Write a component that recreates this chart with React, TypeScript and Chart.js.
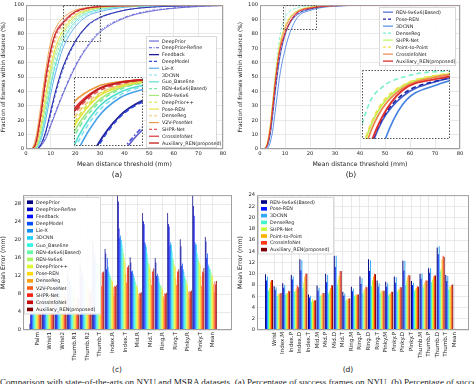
import React, { useEffect, useRef } from 'react';
import { Chart, registerables } from 'chart.js';
Chart.register(...registerables);

const FONT = "'DejaVu Sans', sans-serif";
Chart.defaults.font.family = FONT;
const GRID = '#e3e3e3';
const SPINE = '#a0a0a0';
const TXT = '#222222';

// ---------- (a) NYU success-frame curves ----------
const THRESH_A = [0, 2, 4, 6, 8, 10, 12, 15, 20, 25, 30, 40, 50, 60, 70, 80];
const A_DEEPPRIOR = [0, 0, 0, 2, 7, 16, 25, 38, 57, 71, 81, 91, 95.5, 97.8, 99, 99.7];
const A_DEEPPRIOR_REFINE = [0, 0, 0, 2, 8, 17, 26, 39, 58, 72, 82, 91.5, 96, 98, 99.2, 99.8];
const A_FEEDBACK = [0, 0, 0, 3, 12, 26, 40, 57, 75, 86, 91.5, 96.5, 98.5, 99.3, 99.7, 100];
const A_DEEPMODEL = [0, 0, 0, 3, 11, 24, 38, 55, 74, 85.5, 91, 96.5, 98.5, 99.3, 99.7, 100];
const A_LIEX = [0, 0, 0.5, 6, 20, 38, 53, 70, 85, 92.5, 95.5, 98.5, 99.5, 99.8, 99.9, 100];
const A_3DCNN = [0, 0, 0.5, 7, 23, 42, 57, 73, 87, 93.5, 96.5, 98.8, 99.6, 99.8, 99.9, 100];
const A_GUO = [0, 0, 1, 8, 25, 44, 59, 75, 88.5, 94.5, 97, 99, 99.6, 99.8, 99.9, 100];
const A_REN4 = [0, 0, 1, 10, 29, 48, 63, 78, 90, 95.5, 97.8, 99.2, 99.7, 99.9, 100, 100];
const A_REN9 = [0, 0, 1, 12, 32, 52, 67, 80, 91, 96, 98, 99.3, 99.7, 99.9, 100, 100];
const A_DEEPPRIORPP = [0, 0, 2, 15, 36, 56, 70, 83, 93, 96.8, 98.5, 99.4, 99.8, 99.9, 100, 100];
const A_POSEREN = [0, 0, 2, 16, 38, 57, 71, 82, 92.5, 96.5, 98.3, 99.4, 99.7, 99.9, 100, 100];
const A_DENSEREG = [0, 0, 3, 20, 43, 62, 75, 85, 93.5, 97, 98.6, 99.5, 99.8, 99.9, 100, 100];
const A_V2V = [0, 0, 8, 30, 55, 74, 84, 91, 96.5, 98.3, 99, 99.6, 99.8, 99.9, 100, 100];
const A_SHPR = [0, 0, 3, 21, 45, 65, 78, 86.5, 94.5, 97.5, 98.8, 99.5, 99.8, 99.9, 100, 100];
const A_CROSSINFO = [0, 0, 5, 25, 50, 69, 81, 88.5, 95.5, 98, 99, 99.6, 99.8, 99.9, 100, 100];
const A_AUX = [0, 0, 4, 23, 48, 68, 80, 87.5, 95.3, 98, 99, 99.6, 99.8, 100, 100, 100];

// ---------- (b) MSRA success-frame curves ----------
const THRESH_B = [0, 2, 3, 4, 5, 6, 7, 8, 10, 12, 15, 20, 30, 40, 60, 80];
const B_REN9 = [0, 0.3, 2, 9, 22, 38, 52, 64, 79, 87.5, 93.5, 97.2, 99.5, 99.8, 100, 100];
const B_POSEREN = [0, 0.3, 2.5, 10, 24, 40, 54, 66, 80, 88, 94, 97.3, 99.5, 99.8, 100, 100];
const B_3DCNN = [0, 0, 0.5, 4, 12, 25, 39, 52, 69, 81, 91.5, 96.3, 99.3, 99.8, 100, 100];
const B_DENSEREG = [0, 0.3, 3, 13, 30, 50, 66, 79, 91.5, 95.8, 98.2, 99.6, 99.9, 100, 100, 100];
const B_SHPR = [0, 0.5, 5, 15, 31, 48, 62, 73, 85, 91.5, 96, 98.6, 99.7, 100, 100, 100];
const B_P2P = [0, 0.5, 5, 16, 32, 49, 63, 74, 85.5, 92, 96.2, 98.7, 99.7, 100, 100, 100];
const B_CROSSINFO = [0, 0.5, 4, 14, 29, 46, 60, 71, 83.5, 90.5, 95.5, 98.3, 99.7, 100, 100, 100];
const B_AUX = [0, 0.4, 3.5, 12, 27, 44, 58, 69, 80.5, 88.5, 95, 97.8, 99.6, 99.9, 100, 100];

// ---------- (c) NYU per-joint mean error ----------
const CATS_C = ['Palm', 'Wrist1', 'Wrist2', 'Thumb.R1', 'Thumb.R2', 'Thumb.T', 'Index.R', 'Index.T', 'Mid.R', 'Mid.T', 'Ring.R', 'Ring.T', 'Pinky.R', 'Pinky.T', 'Mean'];
const C_DEEPPRIOR = [1.4, 14, 15, 13, 15, 20, 18.0, 30.0, 16.2, 26.0, 16.0, 26.0, 20.2, 30.0, 20.7];
const C_DEEPPRIOR_REFINE = [12, 13, 14, 12, 14, 19, 17.0, 28.6, 15.0, 24.2, 15.0, 23.6, 18.6, 27.6, 19.7];
const C_FEEDBACK = [10, 11, 12, 11, 12, 16, 13.5, 22.6, 13.0, 23.5, 12.0, 23.0, 14.3, 25.4, 16.0];
const C_DEEPMODEL = [11, 12, 12, 11, 13, 17, 16.0, 20.5, 13.2, 19.5, 12.5, 18.8, 14.8, 19.5, 17.0];
const C_LIEX = [9, 10, 10, 10, 12, 16, 14.0, 21.0, 12.5, 19.0, 12.0, 19.5, 13.5, 19.0, 14.5];
const C_3DCNN = [9, 10, 10, 10, 12, 16, 13.0, 20.0, 12.0, 18.5, 11.5, 19.0, 13.0, 19.0, 14.1];
const C_GUO = [8, 10, 10, 10, 11, 15, 12.5, 19.0, 11.5, 17.0, 10.5, 17.5, 12.0, 17.0, 13.7];
const C_REN4 = [8, 9, 10, 9, 11, 15, 12.0, 18.0, 10.8, 16.0, 10.0, 16.0, 11.5, 16.0, 13.4];
const C_REN9 = [7.5, 9, 9, 9, 11, 14.5, 11.5, 17.0, 10.2, 15.0, 9.8, 15.5, 11.0, 15.5, 12.7];
const C_DEEPPRIORPP = [7, 8, 8, 8.5, 10.5, 14.6, 11.0, 16.0, 9.8, 14.5, 9.5, 14.5, 10.5, 15.0, 12.2];
const C_POSEREN = [7, 8, 8, 8.5, 10, 14.2, 10.8, 15.0, 9.5, 13.5, 9.0, 14.0, 10.0, 14.5, 11.8];
const C_DENSEREG = [6, 7, 7, 7, 9, 12.0, 9.5, 12.5, 8.0, 11.5, 7.5, 11.5, 8.5, 12.0, 10.2];
const C_V2V = [5, 6, 6, 6, 7.5, 9.8, 7.5, 10.5, 7.0, 10.0, 6.8, 10.0, 7.0, 9.8, 8.4];
const C_SHPR = [6.5, 7, 7.5, 7, 9, 12.8, 9.8, 14.0, 8.3, 13.0, 8.2, 13.0, 8.7, 13.0, 10.8];
const C_CROSSINFO = [6, 7, 7, 7, 8.5, 12.8, 9.6, 13.9, 8.2, 13.0, 8.0, 13.0, 8.5, 12.8, 10.1];
const C_AUX = [6.2, 7, 7, 7, 9, 13.0, 10.0, 14.4, 8.4, 13.7, 8.3, 13.5, 8.8, 13.8, 10.9];

// ---------- (d) MSRA per-joint mean error ----------
const CATS_D = ['Wrist', 'Index.M', 'Index.P', 'Index.D', 'Index.T', 'Mid.M', 'Mid.P', 'Mid.D', 'Mid.T', 'Ring.M', 'Ring.P', 'Ring.D', 'Ring.T', 'Pinky.M', 'Pinky.P', 'Pinky.D', 'Pinky.T', 'Thumb.M', 'Thumb.P', 'Thumb.D', 'Thumb.T', 'Mean'];
const D_REN9 = [9.9, 7.8, 8.3, 9.8, 12.6, 6.3, 7.9, 10.0, 13.2, 6.8, 7.7, 9.5, 12.6, 8.8, 8.6, 9.5, 12.3, 8.7, 10.0, 11.0, 14.7, 9.8];
const D_POSEREN = [8.8, 7.1, 7.5, 9.0, 10.6, 5.8, 7.0, 8.5, 11.2, 6.1, 6.9, 8.2, 10.5, 7.7, 7.7, 8.4, 10.6, 8.0, 9.1, 10.2, 13.5, 8.7];
const D_3DCNN = [9.5, 7.6, 8.0, 9.5, 12.4, 6.1, 7.5, 9.8, 13.2, 6.5, 7.4, 9.2, 12.4, 8.3, 8.3, 9.4, 12.3, 8.4, 10.0, 11.0, 14.9, 9.6];
const D_DENSEREG = [7.0, 6.0, 6.3, 6.8, 7.5, 5.0, 6.0, 6.5, 8.0, 5.2, 6.0, 6.5, 7.8, 6.5, 6.2, 6.8, 8.0, 7.0, 7.5, 8.5, 10.5, 7.2];
const D_SHPR = [7.5, 6.5, 6.5, 7.0, 8.5, 5.5, 6.2, 7.0, 9.0, 5.5, 6.3, 7.0, 8.8, 7.0, 6.5, 7.2, 8.8, 7.3, 8.0, 9.0, 11.0, 7.8];
const D_P2P = [8.6, 6.3, 6.6, 7.3, 9.5, 5.1, 6.3, 7.5, 9.6, 5.4, 6.2, 7.3, 9.5, 6.8, 6.5, 7.2, 9.5, 7.5, 8.5, 9.5, 12.6, 7.7];
const D_CROSSINFO = [8.9, 6.5, 7.0, 7.9, 10.0, 5.3, 6.6, 8.0, 10.5, 5.6, 6.3, 7.7, 10.0, 7.0, 6.8, 7.6, 9.8, 7.8, 8.8, 9.7, 13.2, 8.0];
const D_AUX = [8.9, 6.6, 6.9, 7.6, 10.0, 5.3, 6.6, 7.9, 10.5, 5.6, 6.3, 7.6, 9.9, 7.0, 6.8, 7.6, 9.7, 7.7, 8.8, 9.7, 13.0, 8.1];

const DASH = [3, 2];
const DASHDOT = [3, 1.5, 1, 1.5];

const SERIES_A = [
  { name: 'DeepPrior', values: A_DEEPPRIOR, color: '#6060d0', dash: [], width: 1 },
  { name: 'DeepPrior-Refine', values: A_DEEPPRIOR_REFINE, color: '#5050d8', dash: DASHDOT, width: 1 },
  { name: 'Feedback', values: A_FEEDBACK, color: '#20209a', dash: [], width: 1.2 },
  { name: 'DeepModel', values: A_DEEPMODEL, color: '#3048d8', dash: DASH, width: 1 },
  { name: 'Lie-X', values: A_LIEX, color: '#48a2ea', dash: [], width: 1 },
  { name: '3DCNN', values: A_3DCNN, color: '#80e0f2', dash: DASH, width: 1 },
  { name: 'Guo_Baseline', values: A_GUO, color: '#50dcca', dash: [], width: 1 },
  { name: 'REN-4x6x6(Based)', values: A_REN4, color: '#78e8a6', dash: DASH, width: 1 },
  { name: 'REN-9x6x6', values: A_REN9, color: '#a4e878', dash: [], width: 1 },
  { name: 'DeepPrior++', values: A_DEEPPRIORPP, color: '#cce84c', dash: DASH, width: 1 },
  { name: 'Pose-REN', values: A_POSEREN, color: '#e8e23a', dash: [], width: 1 },
  { name: 'DenseReg', values: A_DENSEREG, color: '#f0c868', dash: DASH, width: 1 },
  { name: 'V2V-PoseNet', values: A_V2V, color: '#e8963a', dash: [], width: 1 },
  { name: 'SHPR-Net', values: A_SHPR, color: '#e05a5a', dash: DASH, width: 1 },
  { name: 'CrossInfoNet', values: A_CROSSINFO, color: '#e03838', dash: [], width: 1.1 },
  { name: 'Auxiliary_REN(proposed)', values: A_AUX, color: '#c42020', dash: [], width: 1.2 },
];

const SERIES_B = [
  { name: 'REN-9x6x6(Based)', values: B_REN9, color: '#3a58cc', dash: [], width: 1 },
  { name: 'Pose-REN', values: B_POSEREN, color: '#2424a4', dash: DASH, width: 1 },
  { name: '3DCNN', values: B_3DCNN, color: '#4480e2', dash: [], width: 1 },
  { name: 'DenseReg', values: B_DENSEREG, color: '#78f0ca', dash: DASH, width: 1 },
  { name: 'SHPR-Net', values: B_SHPR, color: '#bcf04c', dash: [], width: 1 },
  { name: 'Point-to-Point', values: B_P2P, color: '#f0e24c', dash: DASH, width: 1 },
  { name: 'CrossInfoNet', values: B_CROSSINFO, color: '#f0864a', dash: [], width: 1.1 },
  { name: 'Auxiliary_REN(proposed)', values: B_AUX, color: '#e03030', dash: [], width: 1.2 },
];

const SERIES_C = [
  { name: 'DeepPrior', values: C_DEEPPRIOR, color: '#000080' },
  { name: 'DeepPrior-Refine', values: C_DEEPPRIOR_REFINE, color: '#0000c4' },
  { name: 'Feedback', values: C_FEEDBACK, color: '#0010ff' },
  { name: 'DeepModel', values: C_DEEPMODEL, color: '#0050ff' },
  { name: 'Lie-X', values: C_LIEX, color: '#1090f0' },
  { name: '3DCNN', values: C_3DCNN, color: '#20d0f8' },
  { name: 'Guo_Baseline', values: C_GUO, color: '#30f8e0' },
  { name: 'REN-4x6x6(Based)', values: C_REN4, color: '#66f8a8' },
  { name: 'REN-9x6x6', values: C_REN9, color: '#a8f864' },
  { name: 'DeepPrior++', values: C_DEEPPRIORPP, color: '#e0f830' },
  { name: 'Pose-REN', values: C_POSEREN, color: '#ffd810' },
  { name: 'DenseReg', values: C_DENSEREG, color: '#ffa010' },
  { name: 'V2V-PoseNet', values: C_V2V, color: '#ff6018' },
  { name: 'SHPR-Net', values: C_SHPR, color: '#f82010' },
  { name: 'CrossInfoNet', values: C_CROSSINFO, color: '#c80808' },
  { name: 'Auxiliary_REN(proposed)', values: C_AUX, color: '#800000' },
];

const SERIES_D = [
  { name: 'REN-9x6x6(Based)', values: D_REN9, color: '#000080' },
  { name: 'Pose-REN', values: D_POSEREN, color: '#0018ff' },
  { name: '3DCNN', values: D_3DCNN, color: '#30a8f8' },
  { name: 'DenseReg', values: D_DENSEREG, color: '#40f8c8' },
  { name: 'SHPR-Net', values: D_SHPR, color: '#c8f840' },
  { name: 'Point-to-Point', values: D_P2P, color: '#ffb000' },
  { name: 'CrossInfoNet', values: D_CROSSINFO, color: '#ff3810' },
  { name: 'Auxiliary_REN(proposed)', values: D_AUX, color: '#800000' },
];

function framePlugin(zoomBox?: any) {
  return {
    id: 'frame',
    afterDatasetsDraw(chart: any) {
      const { ctx, chartArea: a } = chart;
      ctx.save();
      ctx.strokeStyle = SPINE;
      ctx.lineWidth = 1;
      ctx.strokeRect(a.left + 0.5, a.top + 0.5, a.right - a.left - 1, a.bottom - a.top - 1);
      if (zoomBox) {
        const xs = chart.scales.x, ys = chart.scales.y;
        const l = xs.getPixelForValue(zoomBox.x0), r = xs.getPixelForValue(zoomBox.x1);
        const t = ys.getPixelForValue(zoomBox.y1), b = ys.getPixelForValue(zoomBox.y0);
        ctx.strokeStyle = '#555';
        ctx.setLineDash([1.5, 1.5]);
        ctx.strokeRect(Math.round(l) + 0.5, Math.round(t) + 0.5, Math.round(r - l), Math.round(b - t));
      }
      ctx.restore();
    },
  };
}

function legendPlugin(items: any[], box: any) {
  return {
    id: 'boxLegend',
    afterDatasetsDraw(chart: any) {
      const { ctx, chartArea: a } = chart;
      const x = a.left + box.dx, y = a.top + box.dy;
      const h = box.pad * 2 + items.length * box.lh;
      ctx.save();
      ctx.fillStyle = 'rgba(255,255,255,0.95)';
      ctx.strokeStyle = '#cfcfcf';
      ctx.lineWidth = 0.8;
      ctx.fillRect(x, y, box.w, h);
      ctx.strokeRect(x + 0.5, y + 0.5, box.w - 1, h - 1);
      ctx.font = `${box.font}px ${FONT}`;
      ctx.textBaseline = 'middle';
      items.forEach((it, i) => {
        const cy = y + box.pad + (i + 0.5) * box.lh;
        const sx = x + box.sx;
        if (box.kind === 'line') {
          ctx.strokeStyle = it.color;
          ctx.lineWidth = (it.width || 1) * 1.1;
          ctx.setLineDash(it.dash || []);
          ctx.beginPath();
          ctx.moveTo(sx, cy);
          ctx.lineTo(sx + box.sw, cy);
          ctx.stroke();
          ctx.setLineDash([]);
        } else {
          ctx.fillStyle = it.color;
          ctx.fillRect(sx, cy - box.sh / 2, box.sw, box.sh);
        }
        ctx.fillStyle = TXT;
        ctx.fillText(it.name, sx + box.sw + box.gap, cy + 0.3);
      });
      ctx.restore();
    },
  };
}

function lineSets(thr: number[], series: any[], k: number) {
  return series.map((s, i) => ({
    label: s.name,
    data: thr.map((t, j) => ({ x: t, y: s.values[j] })),
    borderColor: s.color,
    borderWidth: s.width * k,
    borderDash: s.dash.map((d: number) => d * Math.max(k, 1)),
    pointRadius: 0,
    cubicInterpolationMode: 'monotone',
    fill: false,
    order: series.length - i,
  }));
}

function curveChart(canvas: HTMLCanvasElement, inset: HTMLCanvasElement, cfg: any) {
  const main = new Chart(canvas, {
    type: 'line',
    data: { datasets: lineSets(cfg.thr, cfg.series, 0.85) as any },
    options: {
      animation: false,
      responsive: false,
      devicePixelRatio: 1,
      layout: { padding: { top: 2, right: cfg.padRight, left: 0, bottom: 0 } },
      plugins: { legend: { display: false }, tooltip: { enabled: false } },
      scales: {
        x: {
          type: 'linear', min: 0, max: 80,
          ticks: { stepSize: 10, font: { size: 5.2 }, color: TXT, padding: 2 },
          grid: { color: GRID, drawTicks: false, lineWidth: 0.8 },
          border: { display: false },
          title: { display: true, text: 'Mean distance threshold (mm)', font: { size: 6.2 }, color: TXT, padding: { top: 1, bottom: 0 } },
          afterFit: (s: any) => { s.height = cfg.xH; },
        },
        y: {
          type: 'linear', min: 0, max: 100,
          ticks: { stepSize: 10, font: { size: 5.2 }, color: TXT, padding: 2 },
          grid: { color: GRID, drawTicks: false, lineWidth: 0.8 },
          border: { display: false },
          title: { display: true, text: 'Fraction of frames within distance (%)', font: { size: 5.8 }, color: TXT, padding: { top: 0, bottom: 1 } },
          afterFit: (s: any) => { s.width = cfg.yW; },
        },
      },
    } as any,
    plugins: [framePlugin(cfg.zoomBox), legendPlugin(cfg.series, cfg.legend)],
  });
  const xs: any = main.scales.x, ys: any = main.scales.y;
  const l = Math.round(xs.getPixelForValue(cfg.insetAt.x0));
  const r = Math.round(xs.getPixelForValue(cfg.insetAt.x1));
  const t = Math.round(ys.getPixelForValue(cfg.insetAt.y1));
  const b = Math.round(ys.getPixelForValue(cfg.insetAt.y0));
  inset.width = r - l;
  inset.height = b - t;
  inset.style.left = cfg.left + l + 'px';
  inset.style.top = cfg.top + t + 'px';
  inset.style.width = r - l + 'px';
  inset.style.height = b - t + 'px';
  const ins = new Chart(inset, {
    type: 'line',
    data: { datasets: lineSets(cfg.thr, cfg.series, 1.6) as any },
    options: {
      animation: false,
      responsive: false,
      devicePixelRatio: 1,
      layout: { padding: 0 },
      plugins: { legend: { display: false }, tooltip: { enabled: false } },
      scales: {
        x: { type: 'linear', min: cfg.zoomBox.x0, max: cfg.zoomBox.x1, display: false },
        y: { type: 'linear', min: cfg.zoomBox.y0, max: cfg.zoomBox.y1, display: false },
      },
    } as any,
    plugins: [
      {
        id: 'insetBg',
        beforeDraw(c: any) {
          c.ctx.save();
          c.ctx.fillStyle = '#fff';
          c.ctx.fillRect(0, 0, c.width, c.height);
          c.ctx.restore();
        },
        afterDraw(c: any) {
          const ctx = c.ctx;
          ctx.save();
          ctx.strokeStyle = '#555';
          ctx.setLineDash([1.5, 1.5]);
          ctx.lineWidth = 1;
          ctx.strokeRect(0.5, 0.5, c.width - 1, c.height - 1);
          ctx.restore();
        },
      },
    ],
  });
  return [main, ins];
}

function barChart(canvas: HTMLCanvasElement, cfg: any) {
  const cats: string[] = cfg.cats;
  return new Chart(canvas, {
    type: 'bar',
    data: {
      datasets: cfg.series.map((s: any) => ({
        label: s.name,
        data: s.values.map((v: number, i: number) => ({ x: i, y: v })),
        backgroundColor: s.color,
        borderWidth: 0,
        barPercentage: 1,
        categoryPercentage: cfg.catPct,
      })),
    },
    options: {
      animation: false,
      responsive: false,
      devicePixelRatio: 1,
      layout: { padding: { top: 5, right: 5, left: 0, bottom: 0 } },
      plugins: { legend: { display: false }, tooltip: { enabled: false } },
      scales: {
        x: {
          type: 'linear', min: cfg.xMin, max: cfg.xMax, offset: false,
          afterBuildTicks: (s: any) => { s.ticks = cats.map((_, i) => ({ value: i + cfg.lblShift })); },
          ticks: {
            font: { size: 5.6 }, color: TXT, padding: 2, autoSkip: false, minRotation: 90, maxRotation: 90,
            callback: (v: number) => cats[Math.round(v - cfg.lblShift)] ?? '',
          },
          grid: { color: GRID, drawTicks: false, lineWidth: 0.8, offset: false },
          border: { display: false },
          afterFit: (s: any) => { s.height = cfg.xH; },
        },
        y: {
          type: 'linear', min: 0, max: cfg.yMax,
          ticks: { stepSize: 2, font: { size: 5.2 }, color: TXT, padding: 2 },
          grid: { color: GRID, drawTicks: false, lineWidth: 0.8 },
          border: { display: false },
          title: { display: true, text: 'Mean Error (mm)', font: { size: 6.2 }, color: TXT, padding: { top: 0, bottom: 1 } },
          afterFit: (s: any) => { s.width = cfg.yW; },
        },
      },
    } as any,
    plugins: [framePlugin(), legendPlugin(cfg.series, cfg.legend)],
  });
}

const lblStyle = (x: number, y: number): React.CSSProperties => ({
  position: 'absolute', left: x - 20, top: y, width: 40, textAlign: 'center',
  fontFamily: FONT, fontSize: 7.5, color: TXT, lineHeight: '9px',
});

export default function App() {
  const aRef = useRef<HTMLCanvasElement>(null);
  const aiRef = useRef<HTMLCanvasElement>(null);
  const bRef = useRef<HTMLCanvasElement>(null);
  const biRef = useRef<HTMLCanvasElement>(null);
  const cRef = useRef<HTMLCanvasElement>(null);
  const dRef = useRef<HTMLCanvasElement>(null);

  useEffect(() => {
    const charts: Chart[] = [];
    charts.push(...(curveChart(aRef.current!, aiRef.current!, {
      thr: THRESH_A, series: SERIES_A, left: 0, top: 0, yW: 26, xH: 19, padRight: 14,
      zoomBox: { x0: 15, x1: 30, y0: 75, y1: 100 },
      insetAt: { x0: 19.5, x1: 47.5, y0: 2, y1: 50 },
      legend: { dx: 120, dy: 31, w: 71, lh: 6.8, pad: 1.5, kind: 'line', sx: 3, sw: 10, gap: 3, font: 4.8 },
    }) as any));
    charts.push(...(curveChart(bRef.current!, biRef.current!, {
      thr: THRESH_B, series: SERIES_B, left: 237, top: 0, yW: 23, xH: 19, padRight: 14,
      zoomBox: { x0: 9, x1: 22, y0: 83, y1: 100 },
      insetAt: { x0: 41, x1: 76, y0: 7, y1: 55 },
      legend: { dx: 119, dy: 2, w: 77, lh: 7, pad: 1.5, kind: 'line', sx: 4, sw: 10, gap: 3, font: 4.8 },
    }) as any));
    charts.push(barChart(cRef.current!, {
      cats: CATS_C, series: SERIES_C, yMax: 30, yW: 23, xH: 32, catPct: 0.95,
      xMin: -1.0, xMax: 15.69, lblShift: 0.15,
      legend: { dx: 1, dy: 2, w: 77, lh: 7.15, pad: 1.5, kind: 'bar', sx: 3, sw: 6, sh: 3.6, gap: 3, font: 4.8 },
    }));
    charts.push(barChart(dRef.current!, {
      cats: CATS_D, series: SERIES_D, yMax: 24, yW: 20, xH: 32, catPct: 0.92,
      xMin: -1.4, xMax: 23.3, lblShift: 0.6,
      legend: { dx: 1, dy: 2, w: 76, lh: 6.8, pad: 1.5, kind: 'bar', sx: 3, sw: 6, sh: 3.6, gap: 3, font: 4.8 },
    }));
    return () => charts.forEach((c) => c.destroy());
  }, []);

  const cv = (x: number, y: number, w: number, h: number): React.CSSProperties => ({
    position: 'absolute', left: x, top: y, width: w, height: h,
  });

  return (
    <div style={{ position: 'fixed', left: 0, top: 0, width: 474, height: 384, overflow: 'hidden', background: '#fff' }}>
      <canvas ref={aRef} width={237} height={168} style={cv(0, 0, 237, 168)} />
      <canvas ref={aiRef} width={10} height={10} style={cv(0, 0, 10, 10)} />
      <canvas ref={bRef} width={237} height={168} style={cv(237, 0, 237, 168)} />
      <canvas ref={biRef} width={10} height={10} style={cv(0, 0, 10, 10)} />
      <canvas ref={cRef} width={237} height={172} style={cv(0, 190, 237, 172)} />
      <canvas ref={dRef} width={237} height={172} style={cv(237, 190, 237, 172)} />
      <div style={lblStyle(117, 170)}>(a)</div>
      <div style={lblStyle(351, 170)}>(b)</div>
      <div style={lblStyle(117, 365)}>(c)</div>
      <div style={lblStyle(348, 365)}>(d)</div>
      <div style={{ position: 'absolute', left: 0, top: 377, whiteSpace: 'nowrap', fontFamily: "'Liberation Serif', serif", fontSize: 9.1, color: '#222', lineHeight: '10px' }}>
        Comparison with state-of-the-arts on NYU and MSRA datasets. (a) Percentage of success frames on NYU. (b) Percentage of success
      </div>
    </div>
  );
}
